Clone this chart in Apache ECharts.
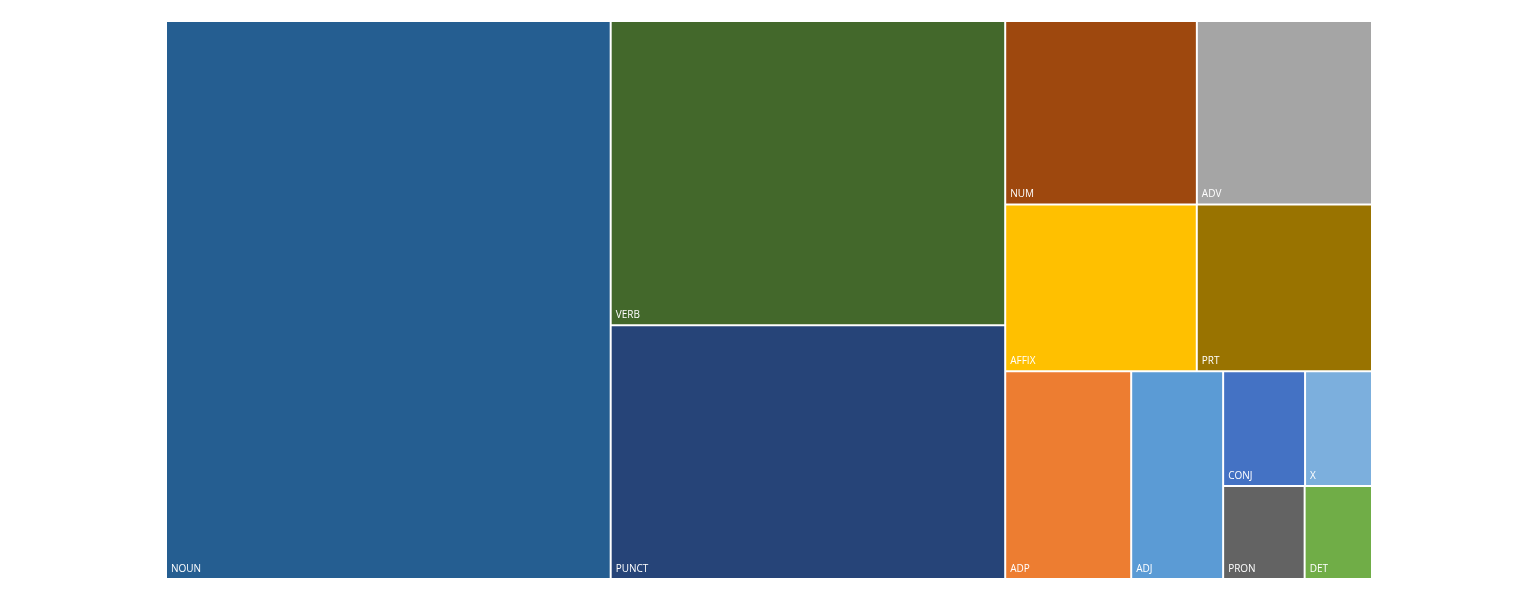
<!DOCTYPE html>
<html><head><meta charset="utf-8">
<script src="https://cdn.jsdelivr.net/npm/echarts@6/dist/echarts.min.js"></script>
<style>html,body{margin:0;padding:0;background:#fff}#c{width:1536px;height:592px}</style>
</head><body><div id="c"></div>
<script>
const categories = ['NOUN','VERB','PUNCT','NUM','ADV','AFFIX','PRT','ADP','ADJ','CONJ','X','PRON','DET'];
const values = [2455, 1188, 990, 348, 318, 316, 289, 259, 189, 93, 76, 75, 62];
const colors = ['#255E91','#43682B','#264478','#9E480E','#A5A5A5','#FFC000','#997300','#ED7D31','#5B9BD5','#4472C4','#7CAFDD','#636363','#70AD47'];

// grouping of the categories (by name) that reproduces the tile arrangement
const groups = ['NOUN', ['VERB','PUNCT'], [['NUM','ADV'], ['AFFIX','PRT'], ['ADP','ADJ', [['CONJ','X'], ['PRON','DET']]]]];

function build(g) {
  if (typeof g === 'string') {
    const i = categories.indexOf(g);
    return {name: g, value: values[i], itemStyle: {color: colors[i]}};
  }
  return {name: '', children: g.map(build)};
}
const data = groups.map(build);

const chart = echarts.init(document.getElementById('c'));
chart.setOption({
  animation: false,
  series: [{
    type: 'treemap',
    left: 167, top: 22, width: 1204, height: 556,
    roam: false, nodeClick: false, sort: false, squareRatio: 0.9,
    breadcrumb: {show: false},
    itemStyle: {borderWidth: 0, gapWidth: 2, borderColor: '#fff'},
    upperLabel: {show: false},
    label: {show: true, position: 'insideBottomLeft', distance: 4, padding: 0, color: '#fff', fontSize: 10, fontFamily: 'Open Sans', formatter: '{b}'},
    data: data
  }]
});
</script></body></html>
